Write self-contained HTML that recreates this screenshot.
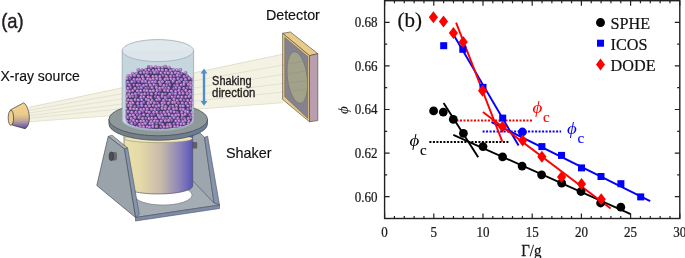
<!DOCTYPE html>
<html><head><meta charset="utf-8"><title>Figure</title>
<style>html,body{margin:0;padding:0;background:#fff;}svg{display:block;}</style></head>
<body><svg width="685" height="258" viewBox="0 0 685 258"><defs>
<linearGradient id="cone" x1="0" y1="0" x2="0" y2="1">
 <stop offset="0" stop-color="#f3d68a"/><stop offset="0.45" stop-color="#ebcb8c"/><stop offset="0.7" stop-color="#bca49c"/><stop offset="1" stop-color="#5a4aa8"/>
</linearGradient>
<linearGradient id="shaker" x1="0" y1="0" x2="1" y2="0">
 <stop offset="0" stop-color="#eae2ae"/><stop offset="0.25" stop-color="#e4d9a8"/><stop offset="0.55" stop-color="#c4b8aa"/><stop offset="0.8" stop-color="#8e86b8"/><stop offset="1" stop-color="#5a56b8"/>
</linearGradient>
<radialGradient id="sph" cx="0.5" cy="0.5" r="0.55" fx="0.35" fy="0.32">
 <stop offset="0" stop-color="#f0a4e2"/><stop offset="0.4" stop-color="#c270c6"/><stop offset="0.8" stop-color="#7652b2"/><stop offset="1" stop-color="#3c2c66"/>
</radialGradient>
<radialGradient id="sph2" cx="0.5" cy="0.5" r="0.55" fx="0.35" fy="0.32">
 <stop offset="0" stop-color="#d28cdc"/><stop offset="0.35" stop-color="#9a56b8"/><stop offset="0.75" stop-color="#5c3e98"/><stop offset="1" stop-color="#2e2258"/>
</radialGradient>
<radialGradient id="sph3" cx="0.5" cy="0.5" r="0.55" fx="0.35" fy="0.32">
 <stop offset="0" stop-color="#f4aaea"/><stop offset="0.35" stop-color="#c46ec8"/><stop offset="0.75" stop-color="#7c4eae"/><stop offset="1" stop-color="#402a6a"/>
</radialGradient>
<linearGradient id="platside" x1="0" y1="0" x2="1" y2="0"><stop offset="0" stop-color="#76828a"/><stop offset="0.5" stop-color="#727e88"/><stop offset="1" stop-color="#6a7c9c"/></linearGradient>
<clipPath id="pileclip"><path d="M125.6,60 L192.6,60 L192.6,120 A33.5,9.5 0 0 1 125.6,120 Z"/></clipPath>
</defs>
<polygon points="29,107.3 283,54.2 283,102.7 29,121.8" fill="#f4f3e3"/>
<line x1="29" y1="110.3" x2="283" y2="65" stroke="#d8d6c6" stroke-width="0.6"/>
<line x1="29" y1="113" x2="283" y2="74.5" stroke="#d8d6c6" stroke-width="0.6"/>
<line x1="29" y1="115.8" x2="283" y2="83.5" stroke="#d8d6c6" stroke-width="0.6"/>
<line x1="29" y1="118.3" x2="283" y2="92" stroke="#d8d6c6" stroke-width="0.6"/>
<line x1="29" y1="107.3" x2="283" y2="54.2" stroke="#d8d4bc" stroke-width="0.7"/>
<line x1="29" y1="121.8" x2="283" y2="102.7" stroke="#dcd8c0" stroke-width="0.7"/>
<path d="M10.4,109.9 L23.6,102.9 C27,104.5 29.5,112 29.3,119 C29,124 27.5,127.5 25,128.7 L12.5,125.2 Z" fill="url(#cone)" stroke="#3a3440" stroke-width="0.7"/>
<ellipse cx="10.9" cy="117.8" rx="2.7" ry="7.5" fill="#efd08c" stroke="#3a3440" stroke-width="0.7"/>
<polygon points="190,134 198,131.2 204.5,137.3 214,203 192,182" fill="#9ea6ad" stroke="#4a5058" stroke-width="0.6"/>
<polygon points="204.5,137.3 207.6,136.2 219.5,205 214,203" fill="#8494b0" stroke="#4a5058" stroke-width="0.6"/>
<rect x="191" y="142" width="6.2" height="6.4" rx="1" fill="#5e6068"/>
<polygon points="128,180 192,180 214,203 219.5,205 135.5,217.5" fill="#a4adb4" stroke="#4a5058" stroke-width="0.6"/>
<polygon points="135.5,217.5 219.5,205 219.5,208.5 135.5,221" fill="#7d8bac" stroke="#4a5058" stroke-width="0.6"/>
<ellipse cx="163" cy="195" rx="29" ry="10" fill="#ffffff" stroke="#5a6068" stroke-width="0.5"/>
<path d="M124,134 L192.7,134 L192.7,186 A34.35,8 0 0 1 124,186 Z" fill="url(#shaker)" stroke="#4a4a60" stroke-width="0.6"/>
<ellipse cx="158.35" cy="138.6" rx="34.1" ry="4" fill="#efe6bc" stroke="#8a8060" stroke-width="0.5"/>
<polygon points="108.2,136.4 112,135.2 127.6,147.9 124.4,149" fill="#a6aeb4" stroke="#4a5058" stroke-width="0.6"/>
<polygon points="124.4,149 127.6,147.9 139.3,214.5 135.5,217.5" fill="#8595b0" stroke="#4a5058" stroke-width="0.6"/>
<polygon points="108.2,136.4 124.4,149 135.5,217.5 96.8,185.5" fill="#9ba3aa" stroke="#4a5058" stroke-width="0.7"/>
<rect x="110.5" y="152" width="6.5" height="8.6" rx="2" fill="#686a72"/>
<ellipse cx="111.3" cy="156.3" rx="2.2" ry="4.3" fill="#4c4d54" stroke="#2e2e34" stroke-width="0.6"/>
<path d="M108.9,119.4 L108.9,123.9 A49.3,16.4 0 0 0 207.5,123.9 L207.5,119.4 Z" fill="url(#platside)" stroke="#3e464c" stroke-width="0.7"/>
<ellipse cx="158.2" cy="119.4" rx="49.3" ry="16.4" fill="#8f999b" stroke="#3e464c" stroke-width="0.7"/>
<ellipse cx="158" cy="120.3" rx="36.6" ry="11.6" fill="#9cadae" stroke="#7a8a8e" stroke-width="0.5"/>
<path d="M122.2,50.3 L193.6,50.3 L193.6,120 A35.7,10 0 0 1 122.2,120 Z" fill="#c6d6de"/>
<ellipse cx="157.9" cy="50.6" rx="35.7" ry="11" fill="#dfe8ec"/>
<g clip-path="url(#pileclip)">
<path d="M126.4,78.7 128.0,77.1 129.7,76.0 131.3,75.0 132.9,74.0 134.6,73.1 136.2,72.3 137.8,71.6 139.5,70.9 141.1,70.2 142.8,69.6 144.4,69.1 146.0,68.6 147.7,68.1 149.3,67.8 150.9,67.4 152.6,67.2 154.2,67.0 155.8,66.8 157.5,66.7 159.1,66.7 160.7,66.7 162.4,66.8 164.0,67.0 165.6,67.2 167.3,67.4 168.9,67.8 170.5,68.1 172.2,68.6 173.8,69.1 175.5,69.6 177.1,70.2 178.7,70.9 180.4,71.6 182.0,72.3 183.6,73.1 185.3,74.0 186.9,75.0 188.5,76.0 190.2,77.1 191.8,78.7 L191.8,120 A32.7,9 0 0 1 126.4,120 Z" fill="#2a2044"/>
<circle cx="165.2" cy="66.6" r="1.75" fill="url(#sph3)"/>
<circle cx="155.7" cy="67.0" r="1.75" fill="url(#sph)"/>
<circle cx="148.5" cy="67.0" r="1.75" fill="url(#sph2)"/>
<circle cx="151.1" cy="67.2" r="1.75" fill="url(#sph)"/>
<circle cx="158.7" cy="67.4" r="1.75" fill="url(#sph)"/>
<circle cx="168.9" cy="67.4" r="1.75" fill="url(#sph)"/>
<circle cx="162.3" cy="67.5" r="1.75" fill="url(#sph)"/>
<circle cx="138.3" cy="69.7" r="1.75" fill="url(#sph)"/>
<circle cx="180.4" cy="69.8" r="1.75" fill="url(#sph)"/>
<circle cx="176.9" cy="69.9" r="1.75" fill="url(#sph)"/>
<circle cx="159.1" cy="69.9" r="1.75" fill="url(#sph)"/>
<circle cx="173.6" cy="70.0" r="1.75" fill="url(#sph)"/>
<circle cx="145.8" cy="70.0" r="1.75" fill="url(#sph3)"/>
<circle cx="149.1" cy="70.0" r="1.75" fill="url(#sph3)"/>
<circle cx="162.4" cy="70.2" r="1.75" fill="url(#sph)"/>
<circle cx="166.2" cy="70.3" r="1.75" fill="url(#sph)"/>
<circle cx="142.2" cy="70.3" r="1.75" fill="url(#sph2)"/>
<circle cx="153.2" cy="70.5" r="1.75" fill="url(#sph3)"/>
<circle cx="156.4" cy="70.5" r="1.75" fill="url(#sph3)"/>
<circle cx="170.5" cy="70.6" r="1.75" fill="url(#sph)"/>
<circle cx="157.5" cy="72.4" r="1.75" fill="url(#sph2)"/>
<circle cx="144.2" cy="72.6" r="1.75" fill="url(#sph)"/>
<circle cx="147.3" cy="72.6" r="1.75" fill="url(#sph3)"/>
<circle cx="154.6" cy="72.6" r="1.75" fill="url(#sph)"/>
<circle cx="185.6" cy="72.7" r="1.75" fill="url(#sph)"/>
<circle cx="150.9" cy="72.8" r="1.75" fill="url(#sph2)"/>
<circle cx="140.7" cy="72.8" r="1.75" fill="url(#sph3)"/>
<circle cx="175.5" cy="72.8" r="1.75" fill="url(#sph)"/>
<circle cx="165.1" cy="72.9" r="1.75" fill="url(#sph)"/>
<circle cx="161.0" cy="73.0" r="1.75" fill="url(#sph)"/>
<circle cx="168.2" cy="73.0" r="1.75" fill="url(#sph)"/>
<circle cx="178.4" cy="73.3" r="1.75" fill="url(#sph3)"/>
<circle cx="171.9" cy="73.4" r="1.75" fill="url(#sph)"/>
<circle cx="181.7" cy="73.4" r="1.75" fill="url(#sph2)"/>
<circle cx="136.5" cy="73.4" r="1.75" fill="url(#sph3)"/>
<circle cx="132.8" cy="73.5" r="1.75" fill="url(#sph3)"/>
<circle cx="134.5" cy="75.4" r="1.75" fill="url(#sph)"/>
<circle cx="163.0" cy="75.4" r="1.75" fill="url(#sph2)"/>
<circle cx="177.4" cy="75.5" r="1.75" fill="url(#sph)"/>
<circle cx="146.2" cy="75.6" r="1.75" fill="url(#sph3)"/>
<circle cx="131.0" cy="75.7" r="1.75" fill="url(#sph)"/>
<circle cx="180.0" cy="75.7" r="1.75" fill="url(#sph2)"/>
<circle cx="128.2" cy="76.0" r="1.75" fill="url(#sph3)"/>
<circle cx="138.6" cy="76.0" r="1.75" fill="url(#sph)"/>
<circle cx="170.6" cy="76.2" r="1.75" fill="url(#sph3)"/>
<circle cx="187.3" cy="76.2" r="1.75" fill="url(#sph2)"/>
<circle cx="174.1" cy="76.3" r="1.75" fill="url(#sph2)"/>
<circle cx="153.0" cy="76.4" r="1.75" fill="url(#sph)"/>
<circle cx="156.2" cy="76.4" r="1.75" fill="url(#sph)"/>
<circle cx="148.4" cy="76.4" r="1.75" fill="url(#sph)"/>
<circle cx="166.3" cy="76.4" r="1.75" fill="url(#sph)"/>
<circle cx="142.4" cy="76.5" r="1.75" fill="url(#sph)"/>
<circle cx="159.9" cy="76.5" r="1.75" fill="url(#sph)"/>
<circle cx="184.2" cy="76.6" r="1.75" fill="url(#sph3)"/>
<circle cx="189.2" cy="78.5" r="1.75" fill="url(#sph3)"/>
<circle cx="130.0" cy="78.5" r="1.75" fill="url(#sph2)"/>
<circle cx="178.0" cy="78.7" r="1.75" fill="url(#sph3)"/>
<circle cx="122.4" cy="78.7" r="1.75" fill="url(#sph2)"/>
<circle cx="126.8" cy="78.7" r="1.75" fill="url(#sph)"/>
<circle cx="156.9" cy="78.8" r="1.75" fill="url(#sph)"/>
<circle cx="167.6" cy="78.9" r="1.75" fill="url(#sph)"/>
<circle cx="171.1" cy="78.9" r="1.75" fill="url(#sph)"/>
<circle cx="153.3" cy="79.0" r="1.75" fill="url(#sph)"/>
<circle cx="147.6" cy="79.0" r="1.75" fill="url(#sph3)"/>
<circle cx="143.3" cy="79.0" r="1.75" fill="url(#sph)"/>
<circle cx="192.7" cy="79.2" r="1.75" fill="url(#sph2)"/>
<circle cx="165.0" cy="79.3" r="1.75" fill="url(#sph)"/>
<circle cx="160.4" cy="79.3" r="1.75" fill="url(#sph)"/>
<circle cx="174.1" cy="79.4" r="1.75" fill="url(#sph)"/>
<circle cx="150.4" cy="79.5" r="1.75" fill="url(#sph)"/>
<circle cx="185.5" cy="79.5" r="1.75" fill="url(#sph)"/>
<circle cx="134.1" cy="79.5" r="1.75" fill="url(#sph)"/>
<circle cx="139.9" cy="79.5" r="1.75" fill="url(#sph)"/>
<circle cx="181.5" cy="79.5" r="1.75" fill="url(#sph3)"/>
<circle cx="137.4" cy="79.6" r="1.75" fill="url(#sph)"/>
<circle cx="173.0" cy="81.4" r="1.75" fill="url(#sph3)"/>
<circle cx="145.5" cy="81.5" r="1.75" fill="url(#sph)"/>
<circle cx="125.3" cy="81.6" r="1.75" fill="url(#sph2)"/>
<circle cx="142.4" cy="81.6" r="1.75" fill="url(#sph)"/>
<circle cx="179.4" cy="81.6" r="1.75" fill="url(#sph3)"/>
<circle cx="134.5" cy="81.6" r="1.75" fill="url(#sph2)"/>
<circle cx="138.7" cy="81.7" r="1.75" fill="url(#sph2)"/>
<circle cx="162.4" cy="81.7" r="1.75" fill="url(#sph)"/>
<circle cx="193.7" cy="81.7" r="1.75" fill="url(#sph)"/>
<circle cx="155.4" cy="81.7" r="1.75" fill="url(#sph3)"/>
<circle cx="131.8" cy="81.8" r="1.75" fill="url(#sph)"/>
<circle cx="152.5" cy="82.0" r="1.75" fill="url(#sph)"/>
<circle cx="187.1" cy="82.1" r="1.75" fill="url(#sph2)"/>
<circle cx="159.3" cy="82.2" r="1.75" fill="url(#sph)"/>
<circle cx="168.8" cy="82.3" r="1.75" fill="url(#sph)"/>
<circle cx="184.2" cy="82.3" r="1.75" fill="url(#sph)"/>
<circle cx="127.9" cy="82.3" r="1.75" fill="url(#sph)"/>
<circle cx="166.8" cy="82.4" r="1.75" fill="url(#sph3)"/>
<circle cx="177.1" cy="82.4" r="1.75" fill="url(#sph3)"/>
<circle cx="149.2" cy="82.5" r="1.75" fill="url(#sph)"/>
<circle cx="190.5" cy="82.5" r="1.75" fill="url(#sph3)"/>
<circle cx="183.9" cy="84.4" r="1.75" fill="url(#sph)"/>
<circle cx="122.5" cy="84.5" r="1.75" fill="url(#sph2)"/>
<circle cx="188.5" cy="84.5" r="1.75" fill="url(#sph)"/>
<circle cx="160.4" cy="84.6" r="1.75" fill="url(#sph)"/>
<circle cx="126.4" cy="84.7" r="1.75" fill="url(#sph2)"/>
<circle cx="154.0" cy="84.8" r="1.75" fill="url(#sph)"/>
<circle cx="181.2" cy="84.9" r="1.75" fill="url(#sph)"/>
<circle cx="170.0" cy="84.9" r="1.75" fill="url(#sph2)"/>
<circle cx="146.4" cy="84.9" r="1.75" fill="url(#sph3)"/>
<circle cx="129.5" cy="85.0" r="1.75" fill="url(#sph3)"/>
<circle cx="194.0" cy="85.0" r="1.75" fill="url(#sph)"/>
<circle cx="133.9" cy="85.0" r="1.75" fill="url(#sph2)"/>
<circle cx="140.0" cy="85.2" r="1.75" fill="url(#sph2)"/>
<circle cx="137.4" cy="85.2" r="1.75" fill="url(#sph3)"/>
<circle cx="150.4" cy="85.3" r="1.75" fill="url(#sph)"/>
<circle cx="156.3" cy="85.3" r="1.75" fill="url(#sph2)"/>
<circle cx="191.0" cy="85.4" r="1.75" fill="url(#sph)"/>
<circle cx="143.6" cy="85.5" r="1.75" fill="url(#sph3)"/>
<circle cx="177.3" cy="85.5" r="1.75" fill="url(#sph3)"/>
<circle cx="164.1" cy="85.5" r="1.75" fill="url(#sph)"/>
<circle cx="166.9" cy="85.6" r="1.75" fill="url(#sph2)"/>
<circle cx="174.6" cy="85.6" r="1.75" fill="url(#sph2)"/>
<circle cx="130.6" cy="87.5" r="1.75" fill="url(#sph2)"/>
<circle cx="156.4" cy="87.6" r="1.75" fill="url(#sph)"/>
<circle cx="190.6" cy="87.6" r="1.75" fill="url(#sph)"/>
<circle cx="152.1" cy="87.7" r="1.75" fill="url(#sph)"/>
<circle cx="141.4" cy="87.7" r="1.75" fill="url(#sph)"/>
<circle cx="187.3" cy="87.8" r="1.75" fill="url(#sph2)"/>
<circle cx="162.6" cy="87.8" r="1.75" fill="url(#sph3)"/>
<circle cx="124.3" cy="87.8" r="1.75" fill="url(#sph3)"/>
<circle cx="179.5" cy="87.9" r="1.75" fill="url(#sph3)"/>
<circle cx="148.2" cy="88.0" r="1.75" fill="url(#sph2)"/>
<circle cx="175.8" cy="88.0" r="1.75" fill="url(#sph)"/>
<circle cx="168.7" cy="88.1" r="1.75" fill="url(#sph)"/>
<circle cx="138.7" cy="88.1" r="1.75" fill="url(#sph2)"/>
<circle cx="145.9" cy="88.2" r="1.75" fill="url(#sph2)"/>
<circle cx="165.7" cy="88.3" r="1.75" fill="url(#sph2)"/>
<circle cx="159.8" cy="88.3" r="1.75" fill="url(#sph)"/>
<circle cx="127.9" cy="88.4" r="1.75" fill="url(#sph)"/>
<circle cx="183.8" cy="88.4" r="1.75" fill="url(#sph3)"/>
<circle cx="193.1" cy="88.5" r="1.75" fill="url(#sph)"/>
<circle cx="135.0" cy="88.5" r="1.75" fill="url(#sph)"/>
<circle cx="173.7" cy="88.6" r="1.75" fill="url(#sph2)"/>
<circle cx="164.6" cy="90.5" r="1.75" fill="url(#sph3)"/>
<circle cx="160.3" cy="90.5" r="1.75" fill="url(#sph2)"/>
<circle cx="144.4" cy="90.5" r="1.75" fill="url(#sph3)"/>
<circle cx="185.9" cy="90.6" r="1.75" fill="url(#sph)"/>
<circle cx="157.1" cy="90.6" r="1.75" fill="url(#sph)"/>
<circle cx="178.9" cy="90.6" r="1.75" fill="url(#sph)"/>
<circle cx="167.9" cy="90.7" r="1.75" fill="url(#sph)"/>
<circle cx="132.7" cy="90.8" r="1.75" fill="url(#sph3)"/>
<circle cx="153.4" cy="90.8" r="1.75" fill="url(#sph)"/>
<circle cx="147.0" cy="90.8" r="1.75" fill="url(#sph)"/>
<circle cx="140.7" cy="90.9" r="1.75" fill="url(#sph)"/>
<circle cx="192.9" cy="91.0" r="1.75" fill="url(#sph2)"/>
<circle cx="171.5" cy="91.1" r="1.75" fill="url(#sph)"/>
<circle cx="137.4" cy="91.1" r="1.75" fill="url(#sph)"/>
<circle cx="150.4" cy="91.1" r="1.75" fill="url(#sph)"/>
<circle cx="126.8" cy="91.2" r="1.75" fill="url(#sph)"/>
<circle cx="129.6" cy="91.4" r="1.75" fill="url(#sph3)"/>
<circle cx="182.2" cy="91.4" r="1.75" fill="url(#sph2)"/>
<circle cx="189.7" cy="91.5" r="1.75" fill="url(#sph)"/>
<circle cx="122.9" cy="91.6" r="1.75" fill="url(#sph3)"/>
<circle cx="175.7" cy="91.6" r="1.75" fill="url(#sph)"/>
<circle cx="183.1" cy="93.5" r="1.75" fill="url(#sph3)"/>
<circle cx="179.7" cy="93.5" r="1.75" fill="url(#sph3)"/>
<circle cx="172.7" cy="93.5" r="1.75" fill="url(#sph2)"/>
<circle cx="156.0" cy="93.5" r="1.75" fill="url(#sph3)"/>
<circle cx="187.2" cy="93.6" r="1.75" fill="url(#sph3)"/>
<circle cx="138.8" cy="93.6" r="1.75" fill="url(#sph2)"/>
<circle cx="148.0" cy="93.7" r="1.75" fill="url(#sph2)"/>
<circle cx="159.2" cy="93.8" r="1.75" fill="url(#sph2)"/>
<circle cx="135.4" cy="93.9" r="1.75" fill="url(#sph)"/>
<circle cx="144.7" cy="93.9" r="1.75" fill="url(#sph)"/>
<circle cx="175.6" cy="93.9" r="1.75" fill="url(#sph3)"/>
<circle cx="151.6" cy="94.1" r="1.75" fill="url(#sph)"/>
<circle cx="165.4" cy="94.1" r="1.75" fill="url(#sph2)"/>
<circle cx="162.5" cy="94.2" r="1.75" fill="url(#sph)"/>
<circle cx="169.8" cy="94.3" r="1.75" fill="url(#sph)"/>
<circle cx="190.6" cy="94.4" r="1.75" fill="url(#sph3)"/>
<circle cx="141.6" cy="94.4" r="1.75" fill="url(#sph)"/>
<circle cx="124.8" cy="94.5" r="1.75" fill="url(#sph)"/>
<circle cx="194.0" cy="94.5" r="1.75" fill="url(#sph2)"/>
<circle cx="128.7" cy="94.6" r="1.75" fill="url(#sph)"/>
<circle cx="132.2" cy="94.6" r="1.75" fill="url(#sph3)"/>
<circle cx="168.4" cy="96.4" r="1.75" fill="url(#sph2)"/>
<circle cx="162.1" cy="96.5" r="1.75" fill="url(#sph3)"/>
<circle cx="130.3" cy="96.6" r="1.75" fill="url(#sph3)"/>
<circle cx="189.1" cy="96.6" r="1.75" fill="url(#sph)"/>
<circle cx="126.8" cy="96.6" r="1.75" fill="url(#sph)"/>
<circle cx="136.3" cy="96.6" r="1.75" fill="url(#sph2)"/>
<circle cx="175.2" cy="96.7" r="1.75" fill="url(#sph2)"/>
<circle cx="133.1" cy="96.7" r="1.75" fill="url(#sph2)"/>
<circle cx="155.3" cy="96.7" r="1.75" fill="url(#sph2)"/>
<circle cx="178.3" cy="96.8" r="1.75" fill="url(#sph3)"/>
<circle cx="172.2" cy="96.9" r="1.75" fill="url(#sph3)"/>
<circle cx="185.9" cy="97.0" r="1.75" fill="url(#sph)"/>
<circle cx="143.8" cy="97.0" r="1.75" fill="url(#sph3)"/>
<circle cx="148.2" cy="97.1" r="1.75" fill="url(#sph)"/>
<circle cx="182.0" cy="97.1" r="1.75" fill="url(#sph)"/>
<circle cx="158.2" cy="97.3" r="1.75" fill="url(#sph)"/>
<circle cx="193.6" cy="97.3" r="1.75" fill="url(#sph)"/>
<circle cx="140.9" cy="97.5" r="1.75" fill="url(#sph)"/>
<circle cx="123.4" cy="97.5" r="1.75" fill="url(#sph)"/>
<circle cx="165.3" cy="97.6" r="1.75" fill="url(#sph)"/>
<circle cx="150.9" cy="97.6" r="1.75" fill="url(#sph3)"/>
<circle cx="174.0" cy="99.4" r="1.75" fill="url(#sph)"/>
<circle cx="159.3" cy="99.4" r="1.75" fill="url(#sph)"/>
<circle cx="146.3" cy="99.6" r="1.75" fill="url(#sph)"/>
<circle cx="135.2" cy="99.7" r="1.75" fill="url(#sph)"/>
<circle cx="180.8" cy="99.8" r="1.75" fill="url(#sph3)"/>
<circle cx="166.7" cy="99.9" r="1.75" fill="url(#sph2)"/>
<circle cx="128.4" cy="99.9" r="1.75" fill="url(#sph)"/>
<circle cx="156.7" cy="99.9" r="1.75" fill="url(#sph3)"/>
<circle cx="138.3" cy="100.1" r="1.75" fill="url(#sph)"/>
<circle cx="141.8" cy="100.1" r="1.75" fill="url(#sph3)"/>
<circle cx="194.4" cy="100.1" r="1.75" fill="url(#sph)"/>
<circle cx="169.8" cy="100.2" r="1.75" fill="url(#sph3)"/>
<circle cx="124.1" cy="100.2" r="1.75" fill="url(#sph)"/>
<circle cx="184.2" cy="100.2" r="1.75" fill="url(#sph2)"/>
<circle cx="191.3" cy="100.3" r="1.75" fill="url(#sph)"/>
<circle cx="187.7" cy="100.4" r="1.75" fill="url(#sph)"/>
<circle cx="152.2" cy="100.4" r="1.75" fill="url(#sph3)"/>
<circle cx="163.5" cy="100.4" r="1.75" fill="url(#sph3)"/>
<circle cx="148.6" cy="100.5" r="1.75" fill="url(#sph)"/>
<circle cx="131.4" cy="100.5" r="1.75" fill="url(#sph)"/>
<circle cx="177.2" cy="100.5" r="1.75" fill="url(#sph3)"/>
<circle cx="122.5" cy="102.4" r="1.75" fill="url(#sph)"/>
<circle cx="143.8" cy="102.4" r="1.75" fill="url(#sph2)"/>
<circle cx="172.6" cy="102.5" r="1.75" fill="url(#sph)"/>
<circle cx="150.8" cy="102.5" r="1.75" fill="url(#sph)"/>
<circle cx="126.5" cy="102.6" r="1.75" fill="url(#sph)"/>
<circle cx="174.7" cy="102.6" r="1.75" fill="url(#sph3)"/>
<circle cx="164.4" cy="102.9" r="1.75" fill="url(#sph)"/>
<circle cx="154.4" cy="102.9" r="1.75" fill="url(#sph)"/>
<circle cx="178.4" cy="103.0" r="1.75" fill="url(#sph2)"/>
<circle cx="182.3" cy="103.0" r="1.75" fill="url(#sph)"/>
<circle cx="190.1" cy="103.0" r="1.75" fill="url(#sph3)"/>
<circle cx="162.1" cy="103.0" r="1.75" fill="url(#sph)"/>
<circle cx="133.0" cy="103.1" r="1.75" fill="url(#sph)"/>
<circle cx="130.3" cy="103.2" r="1.75" fill="url(#sph)"/>
<circle cx="168.5" cy="103.2" r="1.75" fill="url(#sph)"/>
<circle cx="157.8" cy="103.3" r="1.75" fill="url(#sph2)"/>
<circle cx="192.8" cy="103.3" r="1.75" fill="url(#sph3)"/>
<circle cx="148.1" cy="103.4" r="1.75" fill="url(#sph3)"/>
<circle cx="137.7" cy="103.5" r="1.75" fill="url(#sph)"/>
<circle cx="186.1" cy="103.5" r="1.75" fill="url(#sph3)"/>
<circle cx="141.5" cy="103.5" r="1.75" fill="url(#sph3)"/>
<circle cx="176.4" cy="105.4" r="1.75" fill="url(#sph)"/>
<circle cx="128.7" cy="105.5" r="1.75" fill="url(#sph3)"/>
<circle cx="162.5" cy="105.6" r="1.75" fill="url(#sph)"/>
<circle cx="190.8" cy="105.7" r="1.75" fill="url(#sph2)"/>
<circle cx="153.2" cy="105.7" r="1.75" fill="url(#sph3)"/>
<circle cx="131.0" cy="105.7" r="1.75" fill="url(#sph)"/>
<circle cx="159.0" cy="105.8" r="1.75" fill="url(#sph)"/>
<circle cx="141.8" cy="105.8" r="1.75" fill="url(#sph)"/>
<circle cx="124.9" cy="105.8" r="1.75" fill="url(#sph3)"/>
<circle cx="187.9" cy="105.9" r="1.75" fill="url(#sph3)"/>
<circle cx="180.5" cy="106.0" r="1.75" fill="url(#sph)"/>
<circle cx="149.5" cy="106.1" r="1.75" fill="url(#sph)"/>
<circle cx="183.2" cy="106.1" r="1.75" fill="url(#sph)"/>
<circle cx="172.8" cy="106.2" r="1.75" fill="url(#sph)"/>
<circle cx="195.0" cy="106.2" r="1.75" fill="url(#sph)"/>
<circle cx="145.9" cy="106.3" r="1.75" fill="url(#sph3)"/>
<circle cx="138.5" cy="106.3" r="1.75" fill="url(#sph2)"/>
<circle cx="170.4" cy="106.4" r="1.75" fill="url(#sph2)"/>
<circle cx="156.3" cy="106.4" r="1.75" fill="url(#sph3)"/>
<circle cx="134.8" cy="106.5" r="1.75" fill="url(#sph2)"/>
<circle cx="165.8" cy="106.6" r="1.75" fill="url(#sph)"/>
<circle cx="162.1" cy="108.5" r="1.75" fill="url(#sph)"/>
<circle cx="190.8" cy="108.6" r="1.75" fill="url(#sph3)"/>
<circle cx="176.5" cy="108.7" r="1.75" fill="url(#sph)"/>
<circle cx="130.4" cy="108.7" r="1.75" fill="url(#sph)"/>
<circle cx="169.1" cy="108.7" r="1.75" fill="url(#sph)"/>
<circle cx="194.7" cy="108.7" r="1.75" fill="url(#sph)"/>
<circle cx="133.8" cy="108.9" r="1.75" fill="url(#sph)"/>
<circle cx="165.1" cy="108.9" r="1.75" fill="url(#sph)"/>
<circle cx="126.0" cy="108.9" r="1.75" fill="url(#sph)"/>
<circle cx="123.2" cy="108.9" r="1.75" fill="url(#sph)"/>
<circle cx="173.6" cy="109.0" r="1.75" fill="url(#sph)"/>
<circle cx="147.3" cy="109.1" r="1.75" fill="url(#sph3)"/>
<circle cx="180.7" cy="109.2" r="1.75" fill="url(#sph)"/>
<circle cx="151.5" cy="109.2" r="1.75" fill="url(#sph)"/>
<circle cx="136.9" cy="109.2" r="1.75" fill="url(#sph)"/>
<circle cx="158.4" cy="109.3" r="1.75" fill="url(#sph2)"/>
<circle cx="143.9" cy="109.3" r="1.75" fill="url(#sph3)"/>
<circle cx="187.8" cy="109.4" r="1.75" fill="url(#sph2)"/>
<circle cx="154.8" cy="109.5" r="1.75" fill="url(#sph)"/>
<circle cx="183.4" cy="109.6" r="1.75" fill="url(#sph)"/>
<circle cx="140.8" cy="109.6" r="1.75" fill="url(#sph)"/>
<circle cx="142.8" cy="111.4" r="1.75" fill="url(#sph2)"/>
<circle cx="171.0" cy="111.5" r="1.75" fill="url(#sph3)"/>
<circle cx="185.6" cy="111.5" r="1.75" fill="url(#sph)"/>
<circle cx="124.6" cy="111.6" r="1.75" fill="url(#sph2)"/>
<circle cx="128.1" cy="111.7" r="1.75" fill="url(#sph)"/>
<circle cx="146.6" cy="111.7" r="1.75" fill="url(#sph3)"/>
<circle cx="167.7" cy="111.7" r="1.75" fill="url(#sph)"/>
<circle cx="174.3" cy="112.0" r="1.75" fill="url(#sph)"/>
<circle cx="187.9" cy="112.1" r="1.75" fill="url(#sph)"/>
<circle cx="131.8" cy="112.2" r="1.75" fill="url(#sph)"/>
<circle cx="164.0" cy="112.3" r="1.75" fill="url(#sph)"/>
<circle cx="149.3" cy="112.3" r="1.75" fill="url(#sph3)"/>
<circle cx="156.8" cy="112.3" r="1.75" fill="url(#sph)"/>
<circle cx="139.5" cy="112.3" r="1.75" fill="url(#sph)"/>
<circle cx="153.6" cy="112.4" r="1.75" fill="url(#sph)"/>
<circle cx="160.8" cy="112.4" r="1.75" fill="url(#sph2)"/>
<circle cx="181.8" cy="112.4" r="1.75" fill="url(#sph)"/>
<circle cx="177.3" cy="112.4" r="1.75" fill="url(#sph2)"/>
<circle cx="135.9" cy="112.4" r="1.75" fill="url(#sph3)"/>
<circle cx="192.0" cy="112.6" r="1.75" fill="url(#sph)"/>
<circle cx="123.6" cy="114.4" r="1.75" fill="url(#sph2)"/>
<circle cx="169.0" cy="114.5" r="1.75" fill="url(#sph)"/>
<circle cx="185.1" cy="114.5" r="1.75" fill="url(#sph)"/>
<circle cx="153.8" cy="114.6" r="1.75" fill="url(#sph2)"/>
<circle cx="165.4" cy="114.7" r="1.75" fill="url(#sph3)"/>
<circle cx="143.7" cy="114.8" r="1.75" fill="url(#sph)"/>
<circle cx="137.4" cy="114.9" r="1.75" fill="url(#sph2)"/>
<circle cx="178.4" cy="114.9" r="1.75" fill="url(#sph)"/>
<circle cx="189.8" cy="114.9" r="1.75" fill="url(#sph2)"/>
<circle cx="151.6" cy="115.1" r="1.75" fill="url(#sph2)"/>
<circle cx="133.4" cy="115.1" r="1.75" fill="url(#sph)"/>
<circle cx="161.8" cy="115.2" r="1.75" fill="url(#sph)"/>
<circle cx="130.1" cy="115.3" r="1.75" fill="url(#sph)"/>
<circle cx="147.7" cy="115.3" r="1.75" fill="url(#sph)"/>
<circle cx="175.8" cy="115.3" r="1.75" fill="url(#sph)"/>
<circle cx="158.3" cy="115.3" r="1.75" fill="url(#sph)"/>
<circle cx="126.3" cy="115.4" r="1.75" fill="url(#sph2)"/>
<circle cx="172.3" cy="115.5" r="1.75" fill="url(#sph)"/>
<circle cx="182.4" cy="115.5" r="1.75" fill="url(#sph)"/>
<circle cx="192.8" cy="115.5" r="1.75" fill="url(#sph)"/>
<circle cx="140.3" cy="115.6" r="1.75" fill="url(#sph2)"/>
<circle cx="127.6" cy="117.4" r="1.75" fill="url(#sph3)"/>
<circle cx="134.9" cy="117.4" r="1.75" fill="url(#sph)"/>
<circle cx="159.6" cy="117.5" r="1.75" fill="url(#sph)"/>
<circle cx="124.6" cy="117.5" r="1.75" fill="url(#sph)"/>
<circle cx="139.1" cy="117.6" r="1.75" fill="url(#sph3)"/>
<circle cx="190.9" cy="117.7" r="1.75" fill="url(#sph2)"/>
<circle cx="174.0" cy="117.8" r="1.75" fill="url(#sph)"/>
<circle cx="166.6" cy="118.2" r="1.75" fill="url(#sph2)"/>
<circle cx="152.0" cy="118.2" r="1.75" fill="url(#sph)"/>
<circle cx="163.1" cy="118.2" r="1.75" fill="url(#sph)"/>
<circle cx="145.9" cy="118.3" r="1.75" fill="url(#sph2)"/>
<circle cx="155.7" cy="118.3" r="1.75" fill="url(#sph)"/>
<circle cx="170.1" cy="118.3" r="1.75" fill="url(#sph3)"/>
<circle cx="177.9" cy="118.4" r="1.75" fill="url(#sph)"/>
<circle cx="181.9" cy="118.4" r="1.75" fill="url(#sph2)"/>
<circle cx="142.7" cy="118.4" r="1.75" fill="url(#sph)"/>
<circle cx="184.5" cy="118.5" r="1.75" fill="url(#sph2)"/>
<circle cx="188.3" cy="118.5" r="1.75" fill="url(#sph)"/>
<circle cx="149.1" cy="118.6" r="1.75" fill="url(#sph)"/>
<circle cx="131.2" cy="118.6" r="1.75" fill="url(#sph)"/>
<circle cx="171.7" cy="120.4" r="1.75" fill="url(#sph2)"/>
<circle cx="193.2" cy="120.5" r="1.75" fill="url(#sph)"/>
<circle cx="133.5" cy="120.5" r="1.75" fill="url(#sph)"/>
<circle cx="168.6" cy="120.6" r="1.75" fill="url(#sph)"/>
<circle cx="185.2" cy="120.6" r="1.75" fill="url(#sph)"/>
<circle cx="165.3" cy="120.8" r="1.75" fill="url(#sph)"/>
<circle cx="179.1" cy="120.9" r="1.75" fill="url(#sph)"/>
<circle cx="175.9" cy="121.0" r="1.75" fill="url(#sph)"/>
<circle cx="161.2" cy="121.0" r="1.75" fill="url(#sph)"/>
<circle cx="154.5" cy="121.1" r="1.75" fill="url(#sph)"/>
<circle cx="140.9" cy="121.2" r="1.75" fill="url(#sph)"/>
<circle cx="157.4" cy="121.2" r="1.75" fill="url(#sph3)"/>
<circle cx="137.0" cy="121.3" r="1.75" fill="url(#sph)"/>
<circle cx="143.8" cy="121.3" r="1.75" fill="url(#sph3)"/>
<circle cx="147.0" cy="121.4" r="1.75" fill="url(#sph2)"/>
<circle cx="130.5" cy="121.4" r="1.75" fill="url(#sph2)"/>
<circle cx="127.1" cy="121.4" r="1.75" fill="url(#sph)"/>
<circle cx="189.0" cy="121.4" r="1.75" fill="url(#sph)"/>
<circle cx="123.4" cy="121.5" r="1.75" fill="url(#sph)"/>
<circle cx="151.1" cy="121.5" r="1.75" fill="url(#sph)"/>
<circle cx="182.8" cy="121.6" r="1.75" fill="url(#sph)"/>
<circle cx="160.1" cy="123.4" r="1.75" fill="url(#sph2)"/>
<circle cx="135.1" cy="123.4" r="1.75" fill="url(#sph2)"/>
<circle cx="177.7" cy="123.6" r="1.75" fill="url(#sph3)"/>
<circle cx="145.3" cy="123.6" r="1.75" fill="url(#sph)"/>
<circle cx="131.7" cy="123.6" r="1.75" fill="url(#sph)"/>
<circle cx="156.6" cy="123.6" r="1.75" fill="url(#sph2)"/>
<circle cx="149.9" cy="123.8" r="1.75" fill="url(#sph3)"/>
<circle cx="152.7" cy="123.8" r="1.75" fill="url(#sph)"/>
<circle cx="188.3" cy="123.8" r="1.75" fill="url(#sph)"/>
<circle cx="173.9" cy="123.8" r="1.75" fill="url(#sph2)"/>
<circle cx="184.1" cy="123.9" r="1.75" fill="url(#sph)"/>
<circle cx="181.1" cy="124.1" r="1.75" fill="url(#sph)"/>
<circle cx="142.6" cy="124.3" r="1.75" fill="url(#sph3)"/>
<circle cx="167.5" cy="124.5" r="1.75" fill="url(#sph2)"/>
<circle cx="191.1" cy="124.5" r="1.75" fill="url(#sph3)"/>
<circle cx="139.5" cy="124.5" r="1.75" fill="url(#sph)"/>
<circle cx="162.6" cy="124.5" r="1.75" fill="url(#sph3)"/>
<circle cx="169.9" cy="124.5" r="1.75" fill="url(#sph)"/>
<circle cx="128.5" cy="124.5" r="1.75" fill="url(#sph2)"/>
<circle cx="124.2" cy="124.6" r="1.75" fill="url(#sph3)"/>
<circle cx="170.7" cy="126.4" r="1.75" fill="url(#sph3)"/>
<circle cx="152.8" cy="126.5" r="1.75" fill="url(#sph)"/>
<circle cx="177.7" cy="126.6" r="1.75" fill="url(#sph)"/>
<circle cx="156.5" cy="126.6" r="1.75" fill="url(#sph)"/>
<circle cx="147.3" cy="126.7" r="1.75" fill="url(#sph3)"/>
<circle cx="174.7" cy="126.7" r="1.75" fill="url(#sph)"/>
<circle cx="126.3" cy="126.7" r="1.75" fill="url(#sph3)"/>
<circle cx="132.9" cy="126.7" r="1.75" fill="url(#sph)"/>
<circle cx="137.0" cy="126.8" r="1.75" fill="url(#sph2)"/>
<circle cx="167.4" cy="126.8" r="1.75" fill="url(#sph)"/>
<circle cx="140.4" cy="126.8" r="1.75" fill="url(#sph3)"/>
<circle cx="164.1" cy="126.9" r="1.75" fill="url(#sph)"/>
<circle cx="180.7" cy="127.0" r="1.75" fill="url(#sph)"/>
<circle cx="143.7" cy="127.0" r="1.75" fill="url(#sph)"/>
<circle cx="160.9" cy="127.1" r="1.75" fill="url(#sph2)"/>
<circle cx="188.3" cy="127.3" r="1.75" fill="url(#sph)"/>
<circle cx="184.4" cy="127.3" r="1.75" fill="url(#sph)"/>
<circle cx="149.5" cy="127.3" r="1.75" fill="url(#sph)"/>
<circle cx="191.6" cy="127.4" r="1.75" fill="url(#sph)"/>
<circle cx="122.4" cy="127.5" r="1.75" fill="url(#sph)"/>
<circle cx="129.5" cy="127.6" r="1.75" fill="url(#sph)"/>
<circle cx="148.0" cy="129.6" r="1.75" fill="url(#sph)"/>
<circle cx="134.9" cy="129.6" r="1.75" fill="url(#sph3)"/>
<circle cx="128.7" cy="129.7" r="1.75" fill="url(#sph)"/>
<circle cx="190.0" cy="129.7" r="1.75" fill="url(#sph3)"/>
<circle cx="162.7" cy="129.8" r="1.75" fill="url(#sph)"/>
<circle cx="176.6" cy="129.8" r="1.75" fill="url(#sph)"/>
<circle cx="144.8" cy="130.0" r="1.75" fill="url(#sph)"/>
<circle cx="179.6" cy="130.0" r="1.75" fill="url(#sph)"/>
<circle cx="138.3" cy="130.0" r="1.75" fill="url(#sph)"/>
<circle cx="159.0" cy="130.0" r="1.75" fill="url(#sph)"/>
<circle cx="124.8" cy="130.0" r="1.75" fill="url(#sph)"/>
<circle cx="151.3" cy="130.1" r="1.75" fill="url(#sph)"/>
<circle cx="142.0" cy="130.3" r="1.75" fill="url(#sph2)"/>
<circle cx="183.6" cy="130.3" r="1.75" fill="url(#sph)"/>
<circle cx="131.0" cy="130.4" r="1.75" fill="url(#sph)"/>
<circle cx="169.8" cy="130.4" r="1.75" fill="url(#sph2)"/>
<circle cx="187.0" cy="130.5" r="1.75" fill="url(#sph2)"/>
<circle cx="193.3" cy="130.5" r="1.75" fill="url(#sph)"/>
<circle cx="173.6" cy="130.5" r="1.75" fill="url(#sph)"/>
<circle cx="155.6" cy="130.5" r="1.75" fill="url(#sph)"/>
<circle cx="165.6" cy="130.6" r="1.75" fill="url(#sph)"/>
</g>
<path d="M122.2,50.3 L193.6,50.3 L193.6,120 A35.7,10 0 0 1 122.2,120 Z" fill="#c8dae4" fill-opacity="0.15"/>
<path d="M122.2,50.3 L122.2,120 A35.7,10 0 0 0 193.6,120 L193.6,50.3" fill="none" stroke="#98aab4" stroke-width="0.8"/>
<ellipse cx="157.9" cy="50.6" rx="35.7" ry="11" fill="none" stroke="#a6b4bc" stroke-width="0.9"/>
<polygon points="282.6,33.3 290.5,32 317.8,53.7 309.5,55.7" fill="#e8cb88" stroke="#4a4030" stroke-width="0.6"/>
<polygon points="309.5,55.7 317.8,53.7 317.8,120.6 309.5,121.8" fill="#b89eae" stroke="#4a4030" stroke-width="0.6"/>
<polygon points="282.6,33.3 309.5,55.7 309.5,121.8 282.6,99.4" fill="#e8cb88" stroke="#4a4030" stroke-width="0.6"/>
<polygon points="284.7,37.2 307.9,56.6 307.9,118.6 284.7,96.8" fill="#84828e" stroke="#5a5040" stroke-width="0.4"/>
<ellipse cx="297.3" cy="77.5" rx="9.8" ry="26" fill="#a2a28a" stroke="#6a6a60" stroke-width="0.5" transform="rotate(-7 297.3 77.5)"/>
<line x1="283" y1="65" x2="306" y2="60.9" stroke="#8e8e7c" stroke-width="0.4"/>
<line x1="283" y1="74.5" x2="306" y2="71.0" stroke="#8e8e7c" stroke-width="0.4"/>
<line x1="283" y1="83.5" x2="306" y2="80.6" stroke="#8e8e7c" stroke-width="0.4"/>
<line x1="283" y1="92" x2="306" y2="89.6" stroke="#8e8e7c" stroke-width="0.4"/>
<line x1="204" y1="72" x2="204" y2="102" stroke="#4e8ecd" stroke-width="2.4"/>
<polygon points="204,68.6 207.4,73.4 200.6,73.4" fill="#4e8ecd"/>
<polygon points="204,105.8 207.4,101 200.6,101" fill="#4e8ecd"/>
<text transform="translate(1.2 28) scale(0.92 1)" font-family="Liberation Sans, Arial, sans-serif" font-size="20" fill="#231f20" stroke="#231f20" stroke-width="0.4">(a)</text>
<text x="0.5" y="80.6" font-family="Liberation Sans, Arial, sans-serif" font-size="14" fill="#111" stroke="#111" stroke-width="0.15">X-ray source</text>
<text x="265.9" y="19.9" font-family="Liberation Sans, Arial, sans-serif" font-size="14" fill="#111" stroke="#111" stroke-width="0.15" textLength="54" lengthAdjust="spacingAndGlyphs">Detector</text>
<text x="226" y="157.6" font-family="Liberation Sans, Arial, sans-serif" font-size="14.3" fill="#111" stroke="#111" stroke-width="0.15" textLength="45.6" lengthAdjust="spacingAndGlyphs">Shaker</text>
<g font-family="Liberation Sans, Arial, sans-serif" font-size="12" fill="#231f20" stroke="#231f20" stroke-width="0.35"><text transform="translate(212.1 84.9) scale(0.91 1)">Shaking</text><text transform="translate(212.1 96.9) scale(0.955 1)">direction</text></g>
<line x1="429.4" y1="142" x2="508.7" y2="142" stroke="#000" stroke-width="2" stroke-dasharray="2 1.5"/>
<line x1="453" y1="120.6" x2="532.3" y2="120.6" stroke="#f00" stroke-width="2" stroke-dasharray="2 1.5"/>
<line x1="482.6" y1="131.6" x2="561.1" y2="131.6" stroke="#00f" stroke-width="2" stroke-dasharray="2 1.5"/>
<line x1="443.6" y1="103.1" x2="478.2" y2="157.3" stroke="#000" stroke-width="1.9"/>
<line x1="453.3" y1="134.9" x2="630.7" y2="214.1" stroke="#000" stroke-width="1.9"/>
<line x1="454" y1="35.5" x2="518.6" y2="145.6" stroke="#00f" stroke-width="1.9"/>
<line x1="491.5" y1="122.1" x2="650.2" y2="201.2" stroke="#00f" stroke-width="1.9"/>
<line x1="456.1" y1="22.6" x2="502.3" y2="141.7" stroke="#f00" stroke-width="1.9"/>
<line x1="482.9" y1="112.1" x2="610.7" y2="208.4" stroke="#f00" stroke-width="1.9"/>
<circle cx="433.6" cy="110.9" r="4.4" fill="#000"/>
<circle cx="443.3" cy="112.1" r="4.4" fill="#000"/>
<circle cx="453.3" cy="119.4" r="4.4" fill="#000"/>
<circle cx="463.4" cy="133.3" r="4.4" fill="#000"/>
<circle cx="483" cy="146.6" r="4.4" fill="#000"/>
<circle cx="502.6" cy="156.9" r="4.4" fill="#000"/>
<circle cx="522.1" cy="166.1" r="4.4" fill="#000"/>
<circle cx="541.6" cy="174.8" r="4.4" fill="#000"/>
<circle cx="561.7" cy="183.2" r="4.4" fill="#000"/>
<circle cx="581" cy="191.5" r="4.4" fill="#000"/>
<circle cx="600.6" cy="203" r="4.4" fill="#000"/>
<circle cx="620.8" cy="207.2" r="4.4" fill="#000"/>
<rect x="440.2" y="42.2" width="7" height="7" fill="#00f"/>
<rect x="459.3" y="45.8" width="7" height="7" fill="#00f"/>
<rect x="479.5" y="83.9" width="7" height="7" fill="#00f"/>
<rect x="499.2" y="114.6" width="7" height="7" fill="#00f"/>
<rect x="538.4" y="143.1" width="7" height="7" fill="#00f"/>
<rect x="558.0" y="151.9" width="7" height="7" fill="#00f"/>
<rect x="578.0" y="164.4" width="7" height="7" fill="#00f"/>
<rect x="597.5" y="173.0" width="7" height="7" fill="#00f"/>
<rect x="617.4" y="180.2" width="7" height="7" fill="#00f"/>
<rect x="637.2" y="193.4" width="7" height="7" fill="#00f"/>
<circle cx="522.4" cy="132" r="4.4" fill="#00f"/>
<polygon points="433.4,11.2 438.0,17.2 433.4,23.2 428.79999999999995,17.2" fill="#f00"/>
<polygon points="443.5,15.5 448.1,21.5 443.5,27.5 438.9,21.5" fill="#f00"/>
<polygon points="453.4,27 458.0,33 453.4,39 448.79999999999995,33" fill="#f00"/>
<polygon points="463.2,36 467.8,42 463.2,48 458.59999999999997,42" fill="#f00"/>
<polygon points="482.6,84.8 487.20000000000005,90.8 482.6,96.8 478.0,90.8" fill="#f00"/>
<polygon points="502.5,120.8 507.1,126.8 502.5,132.8 497.9,126.8" fill="#f00"/>
<polygon points="522.7,134.4 527.3000000000001,140.4 522.7,146.4 518.1,140.4" fill="#f00"/>
<polygon points="541.9,150.8 546.5,156.8 541.9,162.8 537.3,156.8" fill="#f00"/>
<polygon points="561.6,171 566.2,177 561.6,183 557.0,177" fill="#f00"/>
<polygon points="581.5,178 586.1,184 581.5,190 576.9,184" fill="#f00"/>
<polygon points="601.2,193.2 605.8000000000001,199.2 601.2,205.2 596.6,199.2" fill="#f00"/>
<rect x="384.6" y="0.7" width="295.2" height="217.8" fill="none" stroke="#222" stroke-width="1.4"/>
<path d="M384.60,218.5v-5M384.60,0.7v5M394.44,218.5v-2.6M394.44,0.7v2.6M404.28,218.5v-2.6M404.28,0.7v2.6M414.12,218.5v-2.6M414.12,0.7v2.6M423.96,218.5v-2.6M423.96,0.7v2.6M433.80,218.5v-5M433.80,0.7v5M443.64,218.5v-2.6M443.64,0.7v2.6M453.48,218.5v-2.6M453.48,0.7v2.6M463.32,218.5v-2.6M463.32,0.7v2.6M473.16,218.5v-2.6M473.16,0.7v2.6M483.00,218.5v-5M483.00,0.7v5M492.84,218.5v-2.6M492.84,0.7v2.6M502.68,218.5v-2.6M502.68,0.7v2.6M512.52,218.5v-2.6M512.52,0.7v2.6M522.36,218.5v-2.6M522.36,0.7v2.6M532.20,218.5v-5M532.20,0.7v5M542.04,218.5v-2.6M542.04,0.7v2.6M551.88,218.5v-2.6M551.88,0.7v2.6M561.72,218.5v-2.6M561.72,0.7v2.6M571.56,218.5v-2.6M571.56,0.7v2.6M581.40,218.5v-5M581.40,0.7v5M591.24,218.5v-2.6M591.24,0.7v2.6M601.08,218.5v-2.6M601.08,0.7v2.6M610.92,218.5v-2.6M610.92,0.7v2.6M620.76,218.5v-2.6M620.76,0.7v2.6M630.60,218.5v-5M630.60,0.7v5M640.44,218.5v-2.6M640.44,0.7v2.6M650.28,218.5v-2.6M650.28,0.7v2.6M660.12,218.5v-2.6M660.12,0.7v2.6M669.96,218.5v-2.6M669.96,0.7v2.6M679.80,218.5v-5M679.80,0.7v5M384.6,218.50h2.6M679.8,218.50h-2.6M384.6,196.70h5M679.8,196.70h-5M384.6,174.90h2.6M679.8,174.90h-2.6M384.6,153.10h5M679.8,153.10h-5M384.6,131.30h2.6M679.8,131.30h-2.6M384.6,109.50h5M679.8,109.50h-5M384.6,87.70h2.6M679.8,87.70h-2.6M384.6,65.90h5M679.8,65.90h-5M384.6,44.10h2.6M679.8,44.10h-2.6M384.6,22.30h5M679.8,22.30h-5M384.6,0.50h2.6M679.8,0.50h-2.6" stroke="#222" stroke-width="1.2" fill="none"/>
<text transform="translate(384.6 236.6) scale(0.88 1)" font-family="Liberation Serif, Times New Roman, serif" stroke="#1a1a1a" stroke-width="0.25" font-size="14.8" text-anchor="middle" fill="#1a1a1a">0</text>
<text transform="translate(433.8 236.6) scale(0.88 1)" font-family="Liberation Serif, Times New Roman, serif" stroke="#1a1a1a" stroke-width="0.25" font-size="14.8" text-anchor="middle" fill="#1a1a1a">5</text>
<text transform="translate(483.0 236.6) scale(0.88 1)" font-family="Liberation Serif, Times New Roman, serif" stroke="#1a1a1a" stroke-width="0.25" font-size="14.8" text-anchor="middle" fill="#1a1a1a">10</text>
<text transform="translate(532.2 236.6) scale(0.88 1)" font-family="Liberation Serif, Times New Roman, serif" stroke="#1a1a1a" stroke-width="0.25" font-size="14.8" text-anchor="middle" fill="#1a1a1a">15</text>
<text transform="translate(581.4 236.6) scale(0.88 1)" font-family="Liberation Serif, Times New Roman, serif" stroke="#1a1a1a" stroke-width="0.25" font-size="14.8" text-anchor="middle" fill="#1a1a1a">20</text>
<text transform="translate(630.6 236.6) scale(0.88 1)" font-family="Liberation Serif, Times New Roman, serif" stroke="#1a1a1a" stroke-width="0.25" font-size="14.8" text-anchor="middle" fill="#1a1a1a">25</text>
<text transform="translate(679.8 236.6) scale(0.88 1)" font-family="Liberation Serif, Times New Roman, serif" stroke="#1a1a1a" stroke-width="0.25" font-size="14.8" text-anchor="middle" fill="#1a1a1a">30</text>
<text transform="translate(377.6 201.6) scale(0.88 1)" font-family="Liberation Serif, Times New Roman, serif" stroke="#1a1a1a" stroke-width="0.25" font-size="14.8" text-anchor="end" fill="#1a1a1a">0.60</text>
<text transform="translate(377.6 158.0) scale(0.88 1)" font-family="Liberation Serif, Times New Roman, serif" stroke="#1a1a1a" stroke-width="0.25" font-size="14.8" text-anchor="end" fill="#1a1a1a">0.62</text>
<text transform="translate(377.6 114.4) scale(0.88 1)" font-family="Liberation Serif, Times New Roman, serif" stroke="#1a1a1a" stroke-width="0.25" font-size="14.8" text-anchor="end" fill="#1a1a1a">0.64</text>
<text transform="translate(377.6 70.8) scale(0.88 1)" font-family="Liberation Serif, Times New Roman, serif" stroke="#1a1a1a" stroke-width="0.25" font-size="14.8" text-anchor="end" fill="#1a1a1a">0.66</text>
<text transform="translate(377.6 27.2) scale(0.88 1)" font-family="Liberation Serif, Times New Roman, serif" stroke="#1a1a1a" stroke-width="0.25" font-size="14.8" text-anchor="end" fill="#1a1a1a">0.68</text>
<text transform="translate(531.3 256) scale(0.92 1)" font-family="Liberation Serif, Times New Roman, serif" stroke="#1a1a1a" stroke-width="0.25" font-size="16.2" text-anchor="middle" fill="#1a1a1a">Γ/g</text>
<text transform="translate(348.2 110) rotate(-90)" font-family="Liberation Serif, Times New Roman, serif" font-size="15" font-style="italic" text-anchor="middle" fill="#1a1a1a">ϕ</text>
<text x="397.6" y="27" font-family="Liberation Serif, Times New Roman, serif" font-size="21" fill="#111" stroke="#111" stroke-width="0.2">(b)</text>
<circle cx="600.5" cy="22.6" r="4.5" fill="#000"/>
<rect x="597" y="39.7" width="7" height="7" fill="#00f"/>
<polygon points="600.5,58.5 605,64.5 600.5,70.5 596,64.5" fill="#f00"/>
<text x="610.6" y="28.7" font-family="Liberation Serif, Times New Roman, serif" font-size="16.2" fill="#111" stroke="#111" stroke-width="0.2">SPHE</text>
<text x="610.6" y="49.7" font-family="Liberation Serif, Times New Roman, serif" font-size="16.2" fill="#111" stroke="#111" stroke-width="0.2">ICOS</text>
<text x="610.6" y="70.6" font-family="Liberation Serif, Times New Roman, serif" font-size="16.2" fill="#111" stroke="#111" stroke-width="0.2">DODE</text>
<text transform="translate(409.5 146) scale(1.08 1)" font-family="Liberation Serif, Times New Roman, serif" font-size="17.5" font-style="italic" fill="#000">ϕ</text><text x="420.1" y="155.2" font-family="Liberation Serif, Times New Roman, serif" font-size="15" fill="#000" stroke="#000" stroke-width="0.12">c</text>
<text transform="translate(532.5 112.5) scale(1.08 1)" font-family="Liberation Serif, Times New Roman, serif" font-size="17.5" font-style="italic" fill="#f00">ϕ</text><text x="543.1" y="121.7" font-family="Liberation Serif, Times New Roman, serif" font-size="15" fill="#f00" stroke="#f00" stroke-width="0.12">c</text>
<text transform="translate(567 134) scale(1.08 1)" font-family="Liberation Serif, Times New Roman, serif" font-size="17.5" font-style="italic" fill="#00f">ϕ</text><text x="577.6" y="143.2" font-family="Liberation Serif, Times New Roman, serif" font-size="15" fill="#00f" stroke="#00f" stroke-width="0.12">c</text></svg></body></html>
